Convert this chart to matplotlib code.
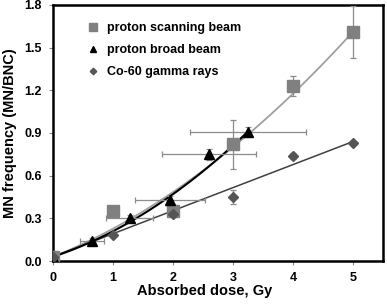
import numpy as np
import matplotlib
matplotlib.use("Agg")
from matplotlib import pyplot as plt

plt.rcParams['font.family'] = ['Liberation Sans', 'DejaVu Sans']
plt.rcParams['font.weight'] = 'bold'

# proton scanning beam
scan_dose = [0, 1, 2, 3, 4, 5]
scan_mn = [0.03, 0.35, 0.35, 0.82, 1.23, 1.61]
scan_yerr = [0, 0, 0.04, 0.17, 0.07, 0.18]
scan_fit = [0.0297, 0.168, 0.03]   # c*D^2 + b*D + a

# proton broad beam
broad_dose = [0, 0.65, 1.28, 1.95, 2.6, 3.25]
broad_mn = [0.03, 0.14, 0.30, 0.43, 0.75, 0.91]
broad_xerr = [0, 0.2, 0.39, 0.58, 0.78, 0.97]
broad_yerr = [0, 0.02, 0.02, 0.03, 0.04, 0.03]
broad_fit = [0.0406, 0.139, 0.03]

# Co-60 gamma rays
co_dose = [0, 1, 2, 3, 4, 5]
co_mn = [0.03, 0.18, 0.33, 0.45, 0.74, 0.83]
co_yerr = [0, 0.01, 0.01, 0.05, 0.02, 0.01]
co_fit = [0.162, 0.03]

xticks = [0, 1, 2, 3, 4, 5]
yticks = [0.0, 0.3, 0.6, 0.9, 1.2, 1.5, 1.8]

fig = plt.figure(figsize=(3.87, 3.06), dpi=100)
ax = fig.add_axes([0.137, 0.147, 0.853, 0.837])

ebc = '#8c8c8c'
# fitted curves
xs = np.linspace(0, 5, 100)
ax.plot(xs, np.polyval(scan_fit, xs), color='#a0a0a0', lw=1.3, zorder=2)
xb = np.linspace(0, max(broad_dose), 100)
ax.plot(xb, np.polyval(broad_fit, xb), color='black', lw=1.5, zorder=3)
ax.plot(xs, np.polyval(co_fit, xs), color='#404040', lw=1.1, zorder=2)

ax.errorbar(scan_dose, scan_mn, yerr=scan_yerr, fmt='s', color='#808080', ms=8.5,
            ecolor=ebc, elinewidth=0.9, capsize=2.5, capthick=0.9, zorder=4,
            label='proton scanning beam')
ax.errorbar(broad_dose, broad_mn, xerr=broad_xerr, yerr=broad_yerr, fmt='^', color='black', ms=7,
            ecolor=ebc, elinewidth=0.9, capsize=2.5, capthick=0.9, zorder=4,
            label='proton broad beam')
ax.errorbar(co_dose, co_mn, yerr=co_yerr, fmt='D', color='#555555', ms=5.5,
            ecolor=ebc, elinewidth=0.9, capsize=2.5, capthick=0.9, zorder=4,
            label='Co-60 gamma rays')

ax.set_xlim(0, 5.5)
ax.set_ylim(0, 1.8)
ax.set_xticks(xticks)
ax.set_yticks(yticks)
ax.set_yticklabels(['%.1f' % v for v in yticks])
ax.tick_params(direction='out', length=3, width=0.8, color='#888888', labelsize=9, pad=5)
for s in ax.spines.values():
    s.set_linewidth(1.8)
ax.set_xlabel('Absorbed dose, Gy', fontsize=10.5, fontweight='bold', labelpad=3)
ax.xaxis.set_label_coords(0.46, -0.09)
ax.set_ylabel('MN frequency (MN/BNC)', fontsize=10.5, fontweight='bold', labelpad=5)

h, l = ax.get_legend_handles_labels()
h = [x[0] for x in h]
ax.legend(h, l, loc='upper left', frameon=False, fontsize=9, handlelength=1.0,
          handletextpad=0.6, labelspacing=0.8, borderaxespad=1.0, bbox_to_anchor=(0.05, 1.0),
          markerscale=0.6)

plt.savefig('out.png', dpi=100)
